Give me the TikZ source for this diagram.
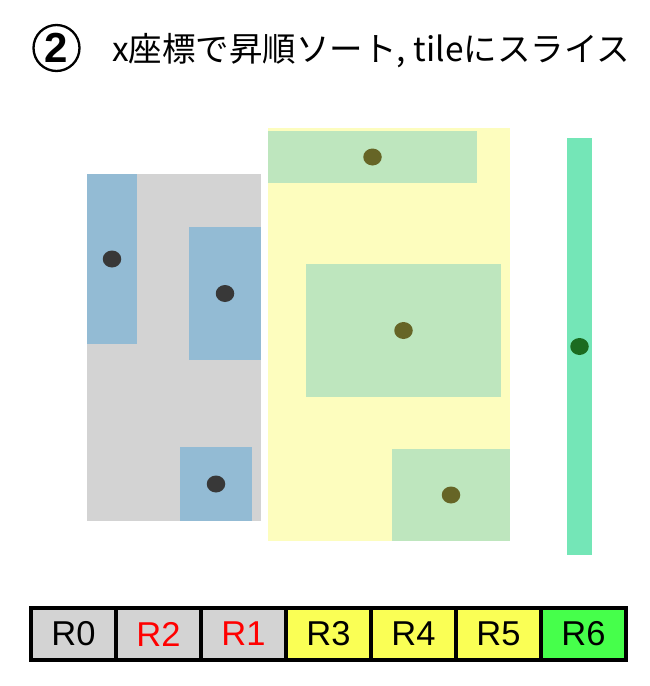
\documentclass[tikz,border=0pt]{standalone}
\usepackage{fontspec}
\setmainfont{Liberation Sans}
\newfontfamily\jpfont{Noto Sans CJK JP}
\usetikzlibrary{positioning,shapes.geometric}

\definecolor{tilegray}{RGB}{211,211,211}
\definecolor{tileyellow}{RGB}{253,253,190}
\definecolor{rectblue}{RGB}{147,187,212}
\definecolor{rectgreen}{RGB}{190,230,190}
\definecolor{recteal}{RGB}{116,230,183}
\definecolor{dotdark}{RGB}{56,56,56}
\definecolor{dotolive}{RGB}{102,101,38}
\definecolor{dotgreen}{RGB}{27,107,32}
\definecolor{cellgray}{RGB}{211,211,211}
\definecolor{cellyellow}{RGB}{250,255,85}
\definecolor{cellgreen}{RGB}{70,255,75}

\tikzset{
  area/.style={inner sep=0pt, outer sep=0pt},
  center/.style={ellipse, inner sep=0pt, minimum width=18.5pt, minimum height=17pt},
  cell/.style={draw, line width=4pt, inner sep=0pt, outer sep=0pt,
    minimum width=85pt, minimum height=52pt, font=\fontsize{34.5}{36}\selectfont}
}

\begin{document}
\begin{tikzpicture}[x=1pt,y=-1pt]
  \useasboundingbox (0,0) rectangle (649,686);

  % title
  \node[draw, circle, line width=2.3pt, minimum size=46pt, inner sep=0pt,
    font=\fontsize{42}{44}\selectfont\bfseries] (num) at (56.5,48) {2};
  \node[anchor=base west, inner sep=0pt, font=\jpfont\fontsize{33.5}{36}\selectfont]
    (title) at (112,61) {x座標で昇順ソート, tileにスライス};

  % tiles
  \node[area, fill=tilegray, minimum width=174pt, minimum height=347pt] (T0) at (174,347.5) {};
  \node[area, fill=tileyellow, minimum width=242pt, minimum height=413pt] (T1) at (389,334.5) {};

  % rectangles
  \node[area, fill=rectblue, minimum width=50pt, minimum height=170pt] (R0) at (112,259) {};
  \node[area, fill=rectblue, minimum width=72pt, minimum height=133pt] (R1) at (225,293.5) {};
  \node[area, fill=rectblue, minimum width=72pt, minimum height=74pt] (R2) at (216,484) {};
  \node[area, fill=rectgreen, minimum width=209pt, minimum height=52pt] (R3) at (372.5,157) {};
  \node[area, fill=rectgreen, minimum width=195pt, minimum height=133pt] (R4) at (403.5,330.5) {};
  \node[area, fill=rectgreen, minimum width=118pt, minimum height=92pt] (R5) at (451,495) {};
  \node[area, fill=recteal, minimum width=25pt, minimum height=417pt] (R6) at (579.5,346.5) {};

  % centres
  \foreach \r in {R0,R1,R2}
    \node[center, fill=dotdark] (c\r) at (\r.center) {};
  \foreach \r in {R3,R4,R5}
    \node[center, fill=dotolive] (c\r) at (\r.center) {};
  \node[center, fill=dotgreen] (cR6) at (R6.center) {};

  % sorted array
  \node[cell, fill=cellgray] (s0) at (73.5,634) {R0};
  \node[cell, fill=cellgray, right=0pt of s0, text=red] (s1) {R2};
  \node[cell, fill=cellgray, right=0pt of s1, text=red] (s2) {R1};
  \node[cell, fill=cellyellow, right=0pt of s2] (s3) {R3};
  \node[cell, fill=cellyellow, right=0pt of s3] (s4) {R4};
  \node[cell, fill=cellyellow, right=0pt of s4] (s5) {R5};
  \node[cell, fill=cellgreen, right=0pt of s5] (s6) {R6};
\end{tikzpicture}
\end{document}
